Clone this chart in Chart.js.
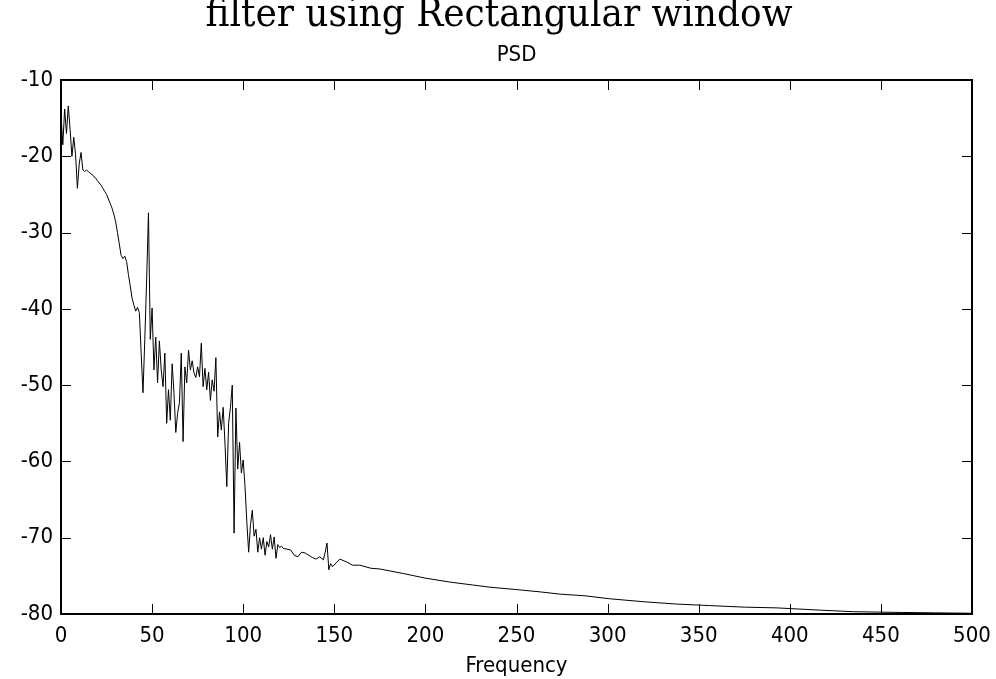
<!DOCTYPE html>
<html>
<head>
<meta charset="utf-8">
<script src="https://cdn.jsdelivr.net/npm/chart.js@4/dist/chart.umd.min.js"></script>
<style>
  body { margin: 0; background: #fff; }
  canvas { display: block; }
</style>
</head>
<body>
<canvas id="psdchart" width="996" height="679"></canvas>
<script>
// PSD of the filtered signal (Hz, dB)
var freqs = [0,1,2,3,4,5,6,7,8,9,10,11,12,13,14,15,16,17,18,19,20,21,22,23,24,25,26,27,28,29,
  30,31,32,33,34,35,36,37,38,39,40,41,42,43,44,45,46,47,48,49,50,51,52,53,54,55,56,57,58,59,
  60,61,62,63,64,65,66,67,68,69,70,71,72,73,74,75,76,77,78,79,80,81,82,83,84,85,86,87,88,89,
  90,91,92,93,94,95,96,97,98,99,100,101,102,103,104,105,106,107,108,109,110,111,112,113,114,115,116,117,118,119,
  120,121,122,124,126,128,130,132,134,136,138,140,142,144,145,146,147,148,149,151,153,157,160,164,170,175,
  188,200,213,226,236,250,263,274,287,301,320,338,356,375,393,417,435,462,480,500];
var psd = [-14.5,-18.5,-13.8,-17,-13.4,-16.5,-20,-17.5,-19.8,-24.2,-21,-19.5,-21.8,-22,-21.8,-22,-22.2,-22.4,-22.6,-22.9,
  -23.2,-23.5,-23.8,-24.2,-24.6,-25,-25.6,-26.2,-26.8,-27.6,
  -28.6,-30,-31.5,-33,-33.4,-33.1,-33.8,-35.5,-37,-38.6,-39.5,-40.3,-39.8,-40.5,-45.8,-51,-44,-36.2,-27.4,-44,
  -39.9,-48,-43.7,-49.7,-44.2,-48,-50.2,-45.8,-55,-50.6,
  -54.6,-47.2,-51,-56.2,-53.7,-52.3,-45.8,-57.4,-47.6,-49.7,-45.4,-48,-46.8,-48.4,-49,-47.6,-48.9,-44.5,-50.2,-47.8,
  -50.6,-48.3,-52,-49.3,-50.8,-46.4,-56.8,-53.5,-55.9,-52.9,
  -57.6,-63.3,-55,-52.9,-50,-69.4,-53,-61,-57.5,-61.5,-59.8,-63.3,-68,-71.9,-68.3,-66.4,-69.8,-68.9,-71.9,-70,
  -71.5,-70,-72.3,-70.5,-71.2,-69.6,-71.5,-69.9,-72.7,-70.9,
  -71.3,-71.1,-71.4,-71.5,-71.6,-72.3,-72.5,-71.9,-72,-72.3,-72.6,-72.8,-72.5,-72.9,-71.9,-70.7,-74.2,-73.4,-73.8,-73.3,
  -72.8,-73.2,-73.6,-73.6,-74,-74.1,
  -74.7,-75.3,-75.8,-76.2,-76.5,-76.8,-77.1,-77.4,-77.6,-78,-78.4,-78.7,-78.9,-79.1,-79.2,-79.5,-79.7,-79.8,-79.85,-79.9];

var xTicks = [0,50,100,150,200,250,300,350,400,450,500];
var yTicks = [-80,-70,-60,-50,-40,-30,-20,-10];

var narrow = "'Liberation Sans Narrow', 'DejaVu Sans Condensed', 'Arial Narrow', sans-serif";

// box round the plot with inward ticks on all four sides, plus the two titles
var matlabBox = {
  id: 'matlabBox',
  afterDatasetsDraw: function(chart) {
    var ctx = chart.ctx, a = chart.chartArea;
    var xs = chart.scales.x, ys = chart.scales.y;
    ctx.save();
    ctx.strokeStyle = '#000';
    ctx.lineWidth = 1;
    ctx.beginPath();
    xTicks.forEach(function(v) {
      var px = Math.round(xs.getPixelForValue(v)) + 0.5;
      ctx.moveTo(px, a.bottom); ctx.lineTo(px, a.bottom - 10);
      ctx.moveTo(px, a.top); ctx.lineTo(px, a.top + 10);
    });
    yTicks.forEach(function(v) {
      var py = Math.round(ys.getPixelForValue(v)) + 0.5;
      ctx.moveTo(a.left, py); ctx.lineTo(a.left + 10, py);
      ctx.moveTo(a.right, py); ctx.lineTo(a.right - 10, py);
    });
    ctx.stroke();
    ctx.lineWidth = 2;
    ctx.strokeRect(a.left, a.top, a.right - a.left, a.bottom - a.top);

    ctx.fillStyle = '#000';
    ctx.textAlign = 'center';
    ctx.textBaseline = 'alphabetic';
    ctx.font = "40px 'DejaVu Serif Condensed', 'DejaVu Serif', serif";
    ctx.fillText('filter using Rectangular window', 499, 26);
    ctx.textBaseline = 'middle';
    ctx.font = '22px ' + narrow;
    ctx.fillText('PSD', (a.left + a.right) / 2, 55);
    ctx.restore();
  }
};

var ctx = document.getElementById('psdchart');
var chart = new Chart(ctx, {
  type: 'line',
  data: {
    datasets: [{
      label: 'PSD',
      data: freqs.map(function(f, i) { return { x: f, y: psd[i] }; }),
      borderColor: '#000',
      borderWidth: 1,
      pointRadius: 0,
      tension: 0,
      fill: false
    }]
  },
  options: {
    responsive: false,
    animation: false,
    layout: { padding: { top: 80, right: 24, left: 0, bottom: 0 } },
    plugins: {
      legend: { display: false },
      tooltip: { enabled: false },
      title: { display: false }
    },
    scales: {
      x: {
        type: 'linear',
        min: 0, max: 500,
        afterBuildTicks: function(s) { s.ticks = xTicks.map(function(v) { return { value: v }; }); },
        afterFit: function(s) { s.height = 65; s.paddingLeft = 0; s.paddingRight = 0; },
        grid: { display: false, drawTicks: false },
        border: { display: false },
        ticks: { color: '#000', padding: 9, maxRotation: 0, font: { family: narrow, size: 22 } },
        title: { display: true, text: 'Frequency', color: '#000', padding: 0, font: { family: narrow, size: 22 } }
      },
      y: {
        min: -80, max: -10,
        afterBuildTicks: function(s) { s.ticks = yTicks.map(function(v) { return { value: v }; }); },
        afterFit: function(s) { s.width = 61; s.paddingTop = 0; s.paddingBottom = 0; },
        grid: { display: false, drawTicks: false },
        border: { display: false },
        ticks: { color: '#000', padding: 8, font: { family: narrow, size: 22 } }
      }
    }
  },
  plugins: [matlabBox]
});
</script>
</body>
</html>
